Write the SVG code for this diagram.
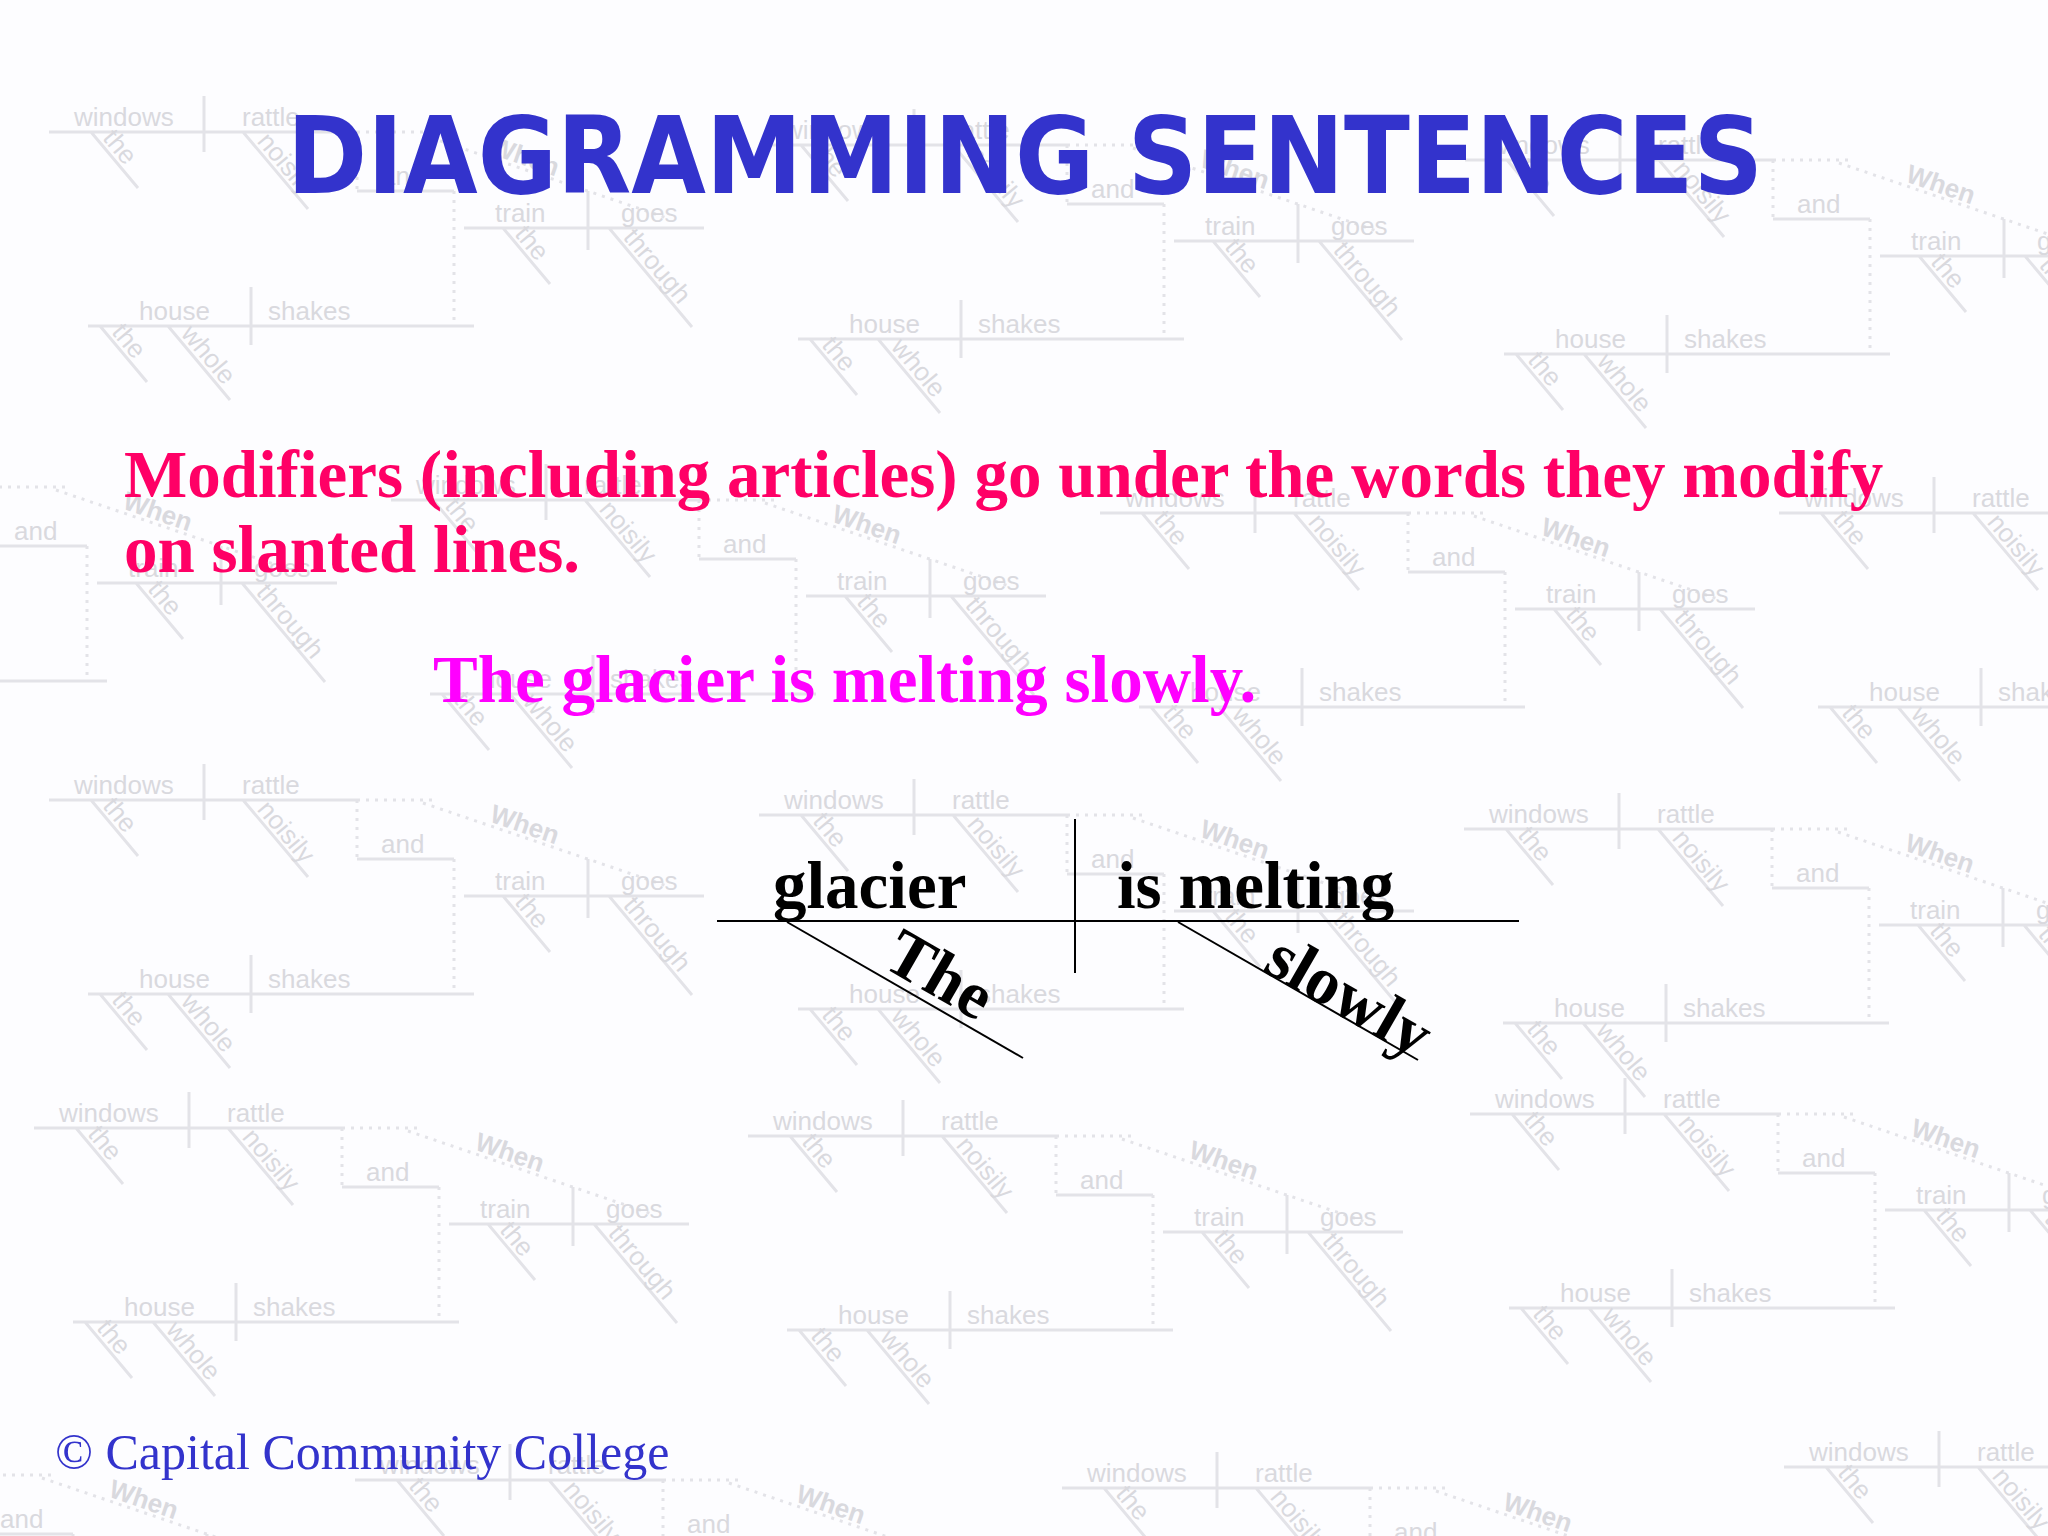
<svg xmlns="http://www.w3.org/2000/svg" xmlns:xlink="http://www.w3.org/1999/xlink" width="2048" height="1536" viewBox="0 0 2048 1536">
<style>
.wl{stroke:#e3e3e8;stroke-width:3;fill:none}
.wd{stroke:#e3e3e8;stroke-width:3;fill:none;stroke-dasharray:3 6}
.wt{font-family:"Liberation Sans",Arial,sans-serif;font-size:26px;fill:#d9d9de}
.ww{font-family:"Liberation Sans",Arial,sans-serif;font-size:26px;font-weight:bold;fill:#d9d9de}
.title{font-family:"Comic Sans MS","DejaVu Sans",sans-serif;font-weight:bold;font-size:107px;fill:#3333cc}
.rule{font-family:"Liberation Serif","Times New Roman",serif;font-weight:bold;font-size:67px;fill:#ff0066}
.sent{font-family:"Liberation Serif","Times New Roman",serif;font-weight:bold;font-size:67px;fill:#ff00ff}
.word{font-family:"Liberation Serif","Times New Roman",serif;font-weight:bold;font-size:67px;fill:#000000}
.foot{font-family:"Liberation Serif","Times New Roman",serif;font-size:50px;fill:#3333cc}
.dl{stroke:#000000;stroke-width:2;fill:none}
</style>
<defs>
<g id="wm">
<path class="wl" d="M0,0H308M155,-36V20M42,0L89,56M194,0L259,77M308,59H405M39,194H425M202,155V213M51,194L98,250M119,194L181,268M415,96H655M539,59V118M454,96L501,152M560,96L643,195"/>
<path class="wd" d="M308,0H383M308,0V59M405,59V194M374,3L621,87"/>
<text class="wt" x="25" y="-6">windows</text>
<text class="wt" x="193" y="-6">rattle</text>
<text class="wt" x="332" y="53">and</text>
<text class="wt" x="90" y="188">house</text>
<text class="wt" x="219" y="188">shakes</text>
<text class="wt" x="446" y="90">train</text>
<text class="wt" x="572" y="90">goes</text>
<text class="wt" transform="translate(42,0) rotate(50)" x="12" y="-4">the</text>
<text class="wt" transform="translate(194,0) rotate(50)" x="16" y="-4">noisily</text>
<text class="wt" transform="translate(51,194) rotate(50)" x="12" y="-4">the</text>
<text class="wt" transform="translate(119,194) rotate(50)" x="14" y="-4">whole</text>
<text class="wt" transform="translate(454,96) rotate(50)" x="12" y="-4">the</text>
<text class="wt" transform="translate(560,96) rotate(50)" x="16" y="-4">through</text>
<text class="ww" transform="translate(374,3) rotate(19)" x="68" y="-4">When</text>
</g>
</defs>
<rect x="0" y="0" width="2048" height="1536" fill="#fdfdff"/>
<g id="watermark">
<use xlink:href="#wm" x="49" y="132"/>
<use xlink:href="#wm" x="759" y="145"/>
<use xlink:href="#wm" x="1465" y="160"/>
<use xlink:href="#wm" x="-318" y="487"/>
<use xlink:href="#wm" x="391" y="500"/>
<use xlink:href="#wm" x="1100" y="513"/>
<use xlink:href="#wm" x="1779" y="513"/>
<use xlink:href="#wm" x="49" y="800"/>
<use xlink:href="#wm" x="759" y="815"/>
<use xlink:href="#wm" x="1464" y="829"/>
<use xlink:href="#wm" x="34" y="1128"/>
<use xlink:href="#wm" x="748" y="1136"/>
<use xlink:href="#wm" x="1470" y="1114"/>
<use xlink:href="#wm" x="-332" y="1475"/>
<use xlink:href="#wm" x="355" y="1480"/>
<use xlink:href="#wm" x="1062" y="1488"/>
<use xlink:href="#wm" x="1784" y="1467"/>
</g>
<g id="title"><text class="title" x="287" y="193" textLength="1476" lengthAdjust="spacingAndGlyphs">DIAGRAMMING SENTENCES</text></g>
<g id="rule-text">
<text class="rule" x="124" y="497">Modifiers (including articles) go under the words they modify</text>
<text class="rule" x="124" y="572">on slanted lines.</text>
</g>
<g id="example-sentence"><text class="sent" x="433" y="702">The glacier is melting slowly.</text></g>
<g id="connectors">
<path class="dl" d="M717,921H1519"/>
<path class="dl" d="M1075,819V973"/>
<path class="dl" d="M787,922L1023,1058"/>
<path class="dl" d="M1178,922L1418,1060"/>
</g>
<g id="node-glacier"><text class="word" x="773" y="908">glacier</text></g>
<g id="node-is-melting"><text class="word" x="1117" y="908">is melting</text></g>
<g id="node-the"><text class="word" transform="translate(787,922) rotate(30)" x="103" y="-9">The</text></g>
<g id="node-slowly"><text class="word" transform="translate(1178,922) rotate(30)" x="96" y="0">slowly</text></g>
<g id="footer"><text class="foot" x="55" y="1469">© Capital Community College</text></g>
</svg>
